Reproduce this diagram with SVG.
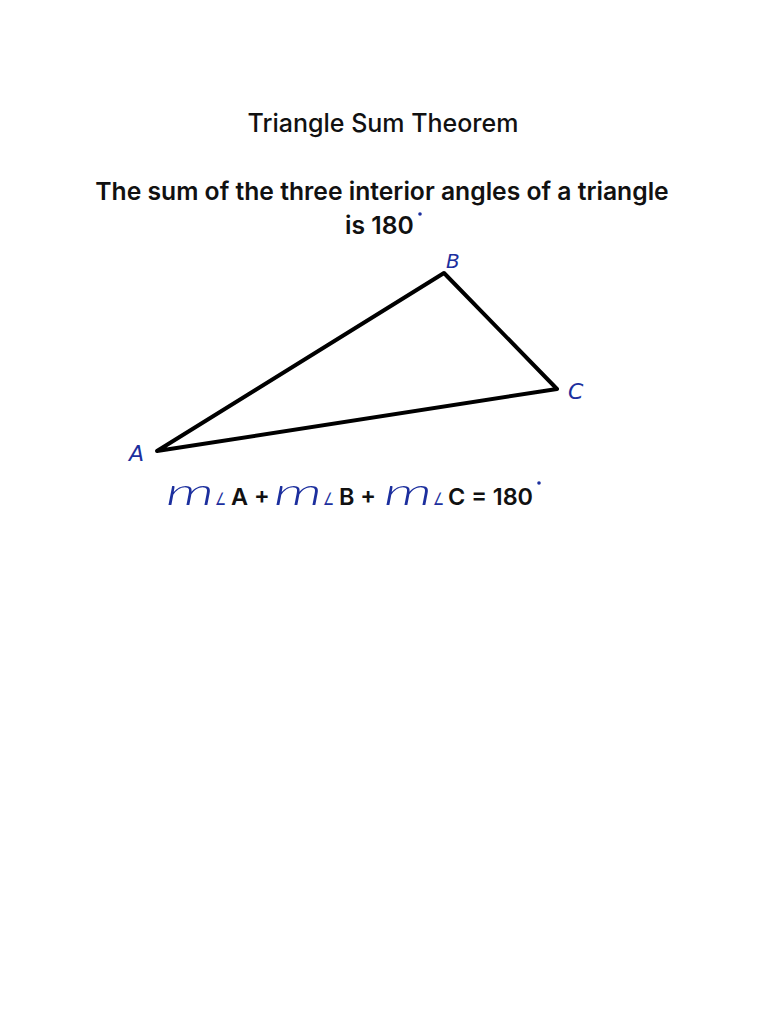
<svg xmlns="http://www.w3.org/2000/svg" width="768" height="1024" viewBox="0 0 768 1024">
<style>
.t{font-family:Inter,"Noto Sans","Liberation Sans",sans-serif;fill:#111;}
.h{font-family:"DejaVu Sans","Liberation Sans",sans-serif;fill:#1c2f9e;}
.m{font-family:Lato,"Open Sans","Liberation Serif",serif;fill:#1c2f9e;font-style:italic;font-weight:300;}
.deg{fill:#1c2f9e;}
</style>
<rect width="768" height="1024" fill="#fff"/>
<g id="title">
<text class="t" x="383" y="132" font-size="25" font-weight="500" text-anchor="middle">Triangle Sum Theorem</text>
</g>
<g id="statement">
<text class="t" x="382" y="200" font-size="24.7" font-weight="600" text-anchor="middle">The sum of the three interior angles of a triangle</text>
<text class="t" x="345" y="234" font-size="24.7" font-weight="600">is 180</text>
<circle class="deg" cx="420" cy="214" r="1.8"/>
</g>
<g id="triangle">
<polygon points="157,451 444,273 557,389" fill="none" stroke="#000" stroke-width="4" stroke-linejoin="round"/>
</g>
<g id="labels">
<text class="h" x="129" y="461" font-size="22" font-style="italic">A</text>
<text class="h" x="446" y="268" font-size="20" font-style="italic">B</text>
<text class="h" x="568" y="399" font-size="22" font-style="italic">C</text>
</g>
<g id="equation">
<text class="m" x="166" y="505" font-size="38" textLength="48" lengthAdjust="spacingAndGlyphs">m</text>
<text class="h" x="215" y="505" font-size="17" textLength="11" lengthAdjust="spacingAndGlyphs">∠</text>
<text class="t" x="231" y="505" font-size="23.4" font-weight="600">A +</text>
<text class="m" x="274" y="505" font-size="38" textLength="48" lengthAdjust="spacingAndGlyphs">m</text>
<text class="h" x="323" y="505" font-size="17" textLength="11" lengthAdjust="spacingAndGlyphs">∠</text>
<text class="t" x="339" y="505" font-size="23.4" font-weight="600">B +</text>
<text class="m" x="384" y="505" font-size="38" textLength="48" lengthAdjust="spacingAndGlyphs">m</text>
<text class="h" x="433" y="505" font-size="17" textLength="11" lengthAdjust="spacingAndGlyphs">∠</text>
<text class="t" x="448" y="505" font-size="23.4" font-weight="600">C = 180</text>
<circle class="deg" cx="539" cy="483" r="1.8"/>
</g>
</svg>
